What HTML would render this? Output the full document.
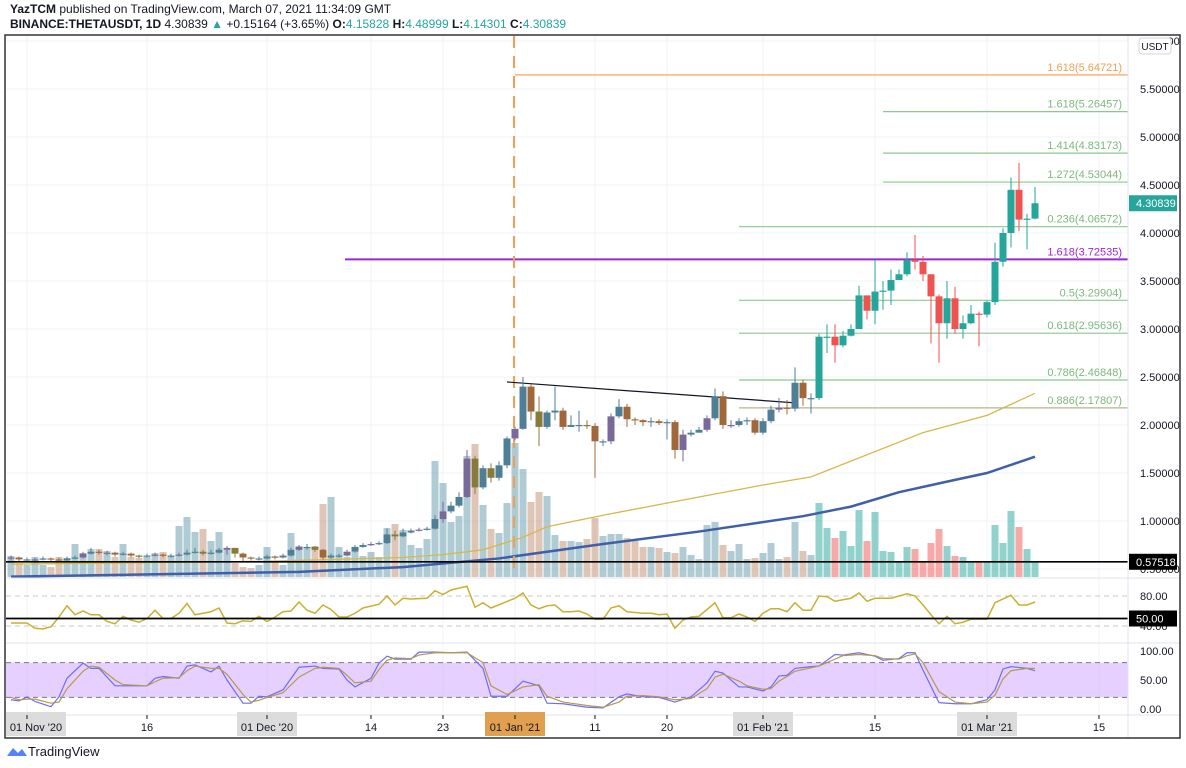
<!DOCTYPE html>
<html><head><meta charset="utf-8"><style>
html,body{margin:0;padding:0;background:#fff;width:1186px;height:768px;overflow:hidden;font-family:"Liberation Sans",sans-serif}
.hdr{position:absolute;left:10px;font-size:12px;color:#131722;white-space:nowrap}
</style></head><body>
<div class="hdr" style="top:2px"><b>YazTCM</b> published on TradingView.com, March 07, 2021 11:34:09 GMT</div>
<div class="hdr" style="top:17px"><b>BINANCE:THETAUSDT, 1D</b> 4.30839 <span style="color:#26a69a">▲</span> +0.15164 (+3.65%) <b>O:</b><span style="color:#26a69a">4.15828</span> <b>H:</b><span style="color:#26a69a">4.48999</span> <b>L:</b><span style="color:#26a69a">4.14301</span> <b>C:</b><span style="color:#26a69a">4.30839</span></div>
<svg id="chart" width="1186" height="768" style="position:absolute;left:0;top:0" xmlns="http://www.w3.org/2000/svg" font-family="Liberation Sans, sans-serif"></svg>
<div style="position:absolute;left:6px;top:744px;font-size:13px;color:#131722">
<svg width="22" height="14" style="vertical-align:-2px"><path d="M1 12 L7 4 L12 9 L16 5 L21 12 Z" fill="#2962ff" opacity="0.8"/></svg>TradingView</div>
<script>
const closes=[0.62,0.60,0.60,0.60,0.61,0.60,0.59,0.61,0.62,0.66,0.68,0.67,0.67,0.65,0.66,0.64,0.63,0.64,0.65,0.64,0.64,0.65,0.67,0.68,0.66,0.67,0.70,0.72,0.66,0.62,0.61,0.61,
0.63,0.62,0.64,0.70,0.73,0.73,0.70,0.62,0.64,0.64,0.68,0.73,0.75,0.76,0.77,
0.86,0.84,0.88,0.90,0.91,0.92,1.02,1.10,1.16,1.25,1.65,1.35,1.55,1.45,1.58,1.86,
1.96,2.40,2.14,1.98,2.13,2.15,1.98,2.0,2.0,1.99,1.83,1.83,2.09,2.19,2.06,2.05,2.03,2.04,2.02,2.03,1.74,1.90,1.92,1.95,2.07,2.30,2.00,2.00,2.04,2.05,1.92,2.04,2.16,2.18,2.17,
2.44,2.28,2.28,2.92,2.92,2.83,2.93,3.00,3.35,3.19,3.39,3.40,3.51,3.57,3.72,3.70,3.57,3.34,3.06,3.32,3.00,3.06,3.16,3.15,3.28,3.70,4.00,4.45,4.14,4.15,4.31];
const highs=[0.64,0.63,0.62,0.62,0.63,0.62,0.62,0.63,0.64,0.68,0.72,0.70,0.69,0.68,0.68,0.67,0.65,0.66,0.67,0.66,0.66,0.67,0.70,0.72,0.70,0.70,0.72,0.74,0.72,0.67,0.63,0.63,
0.65,0.64,0.66,0.72,0.75,0.76,0.74,0.71,0.66,0.66,0.70,0.75,0.77,0.78,0.79,
0.92,0.90,0.92,0.92,0.93,0.94,1.06,1.20,1.20,1.30,1.74,1.68,1.58,1.60,1.62,1.88,
1.98,2.50,2.42,2.30,2.15,2.40,2.18,2.10,2.15,2.05,2.02,1.85,2.12,2.27,2.22,2.08,2.06,2.08,2.06,2.06,2.05,1.95,1.95,1.98,2.10,2.38,2.35,2.05,2.07,2.08,2.07,2.07,2.20,2.28,2.26,
2.60,2.47,2.33,2.95,3.05,3.05,2.98,3.05,3.45,3.35,3.72,3.50,3.62,3.62,3.80,3.98,3.76,3.57,3.36,3.50,3.44,3.14,3.25,3.18,3.30,3.90,4.05,4.58,4.73,4.20,4.48];
const lows=[0.59,0.58,0.58,0.58,0.59,0.58,0.57,0.58,0.60,0.61,0.65,0.65,0.64,0.63,0.64,0.62,0.61,0.62,0.63,0.62,0.62,0.63,0.64,0.66,0.64,0.65,0.66,0.65,0.62,0.58,0.59,0.59,
0.60,0.60,0.61,0.63,0.69,0.70,0.68,0.60,0.61,0.62,0.63,0.67,0.72,0.74,0.75,
0.76,0.80,0.83,0.87,0.89,0.90,0.91,0.98,1.08,1.14,1.24,1.28,1.33,1.40,1.42,1.55,
1.84,1.95,2.05,1.78,1.96,2.05,1.95,1.98,1.93,1.96,1.45,1.78,1.80,2.07,1.98,2.00,1.99,1.98,2.00,1.85,1.65,1.62,1.88,1.92,1.93,2.05,1.96,1.97,1.98,2.00,1.90,1.90,2.02,2.13,2.11,
2.14,2.20,2.12,2.26,2.75,2.65,2.81,2.92,3.0,3.10,3.05,3.20,3.25,3.52,3.55,3.62,3.50,2.85,2.65,2.90,2.95,2.90,3.05,2.82,3.12,3.25,3.65,3.85,4.02,3.83,4.14];
const volumes=[21,14,12,20,12,10,20,19,33,24,28,28,26,20,33,20,19,20,24,25,21,51,60,45,48,36,45,27,14,10,9,12,
30,15,12,44,31,30,31,73,80,30,20,25,21,25,20,
49,53,47,32,29,38,116,94,55,61,121,133,72,48,44,74,
134,108,75,85,81,42,36,36,35,38,59,41,43,43,39,36,30,30,29,25,24,30,22,18,52,55,32,26,33,18,19,24,34,18,20,
55,26,22,74,49,39,46,31,67,36,65,26,25,15,30,28,15,34,48,31,21,20,16,16,15,52,34,66,50,28,15];
const firstDay=-2; // days relative to 01 Nov 2020
const ma50Days=[-2,30,47,52,57,62,65,72,84,92,98,112,120,126];
const ma50Vals=[0.55,0.58,0.62,0.65,0.70,0.83,0.94,1.06,1.25,1.375,1.46,1.92,2.10,2.33];
const ma200Days=[-2,34,47,59,72,84,97,103,109,115,120,126];
const ma200Vals=[0.42,0.47,0.52,0.61,0.76,0.89,1.05,1.15,1.30,1.41,1.50,1.67];
const rsiDays=[-2,0,1,2,3,4,5,6,7,8,9,10,11,12,13,14,15,16,17,18,19,20,21,23,24,25,26,27,28,29,30,31,32,33,34,35,36,37,38,39,40,41,42,44,45,46,47,48,50,51,52,53,55,56,57,58,61,62,
63,64,65,66,67,68,69,70,71,72,73,74,75,77,78,79,80,81,82,83,84,86,87,88,89,90,91,92,93,94,95,96,97,98,99,100,101,103,104,105,106,108,109,110,111,112,113,114,115,116,117,118,120,121,123,124,125,126];
const rsiVals=[44,44,37,36,39,52,67,55,60,55,55,46,43,53,48,45,50,61,50,50,57,70,55,59,64,44,43,47,46,53,46,52,59,60,72,61,57,68,62,52,52,57,64,69,80,68,77,76,77,87,82,88,93,65,71,64,77,84,
68,63,67,68,59,59,60,56,49,49,64,67,59,57,57,55,56,37,48,52,53,71,51,51,56,52,46,57,63,63,59,71,61,61,80,79,73,77,84,73,77,77,80,83,80,68,55,43,53,43,45,49,49,71,81,68,68,72];
const stochDays=[-2,-1,0,1,3,4,5,7,8,9,11,12,15,16,17,19,20,21,23,24,25,27,28,29,30,32,34,36,37,39,40,41,43,44,45,46,48,49,51,53,55,57,58,60,62,64,65,67,70,72,74,75,77,79,81,83,85,86,87,89,90,92,93,94,95,96,98,99,101,102,104,106,107,109,110,111,112,114,116,118,120,121,122,123,125,126];
const stochK=[16,14,21,13,4,21,53,79,70,70,40,40,40,53,56,53,74,76,64,74,50,10,10,22,21,33,72,74,70,69,50,38,53,79,91,86,86,98,98,97,98,70,22,22,48,40,10,9,3,2,21,26,21,20,12,21,45,65,62,38,38,31,38,57,58,70,73,74,94,93,97,91,84,87,97,97,67,11,9,9,16,33,69,73,70,66];
const stochD=[20,16,17,17,10,12,35,65,74,72,50,42,40,47,53,54,66,74,70,70,60,25,12,15,20,28,55,70,72,70,58,45,48,68,84,88,87,93,97,97,97,80,40,25,38,42,22,12,6,3,12,22,23,21,16,18,35,55,60,48,40,34,35,48,56,65,71,74,86,92,94,92,87,86,92,95,80,30,12,9,12,24,52,66,70,70];
const priceTicks=[0.5,1,1.5,2,2.5,3,3.5,4,4.5,5,5.5,6];
const timeTickDays=[0,15,30,43,52,61,71,80,92,106,120,134];
const timeTickLabels=["01 Nov '20","16","01 Dec '20","14","23","01 Jan '21","11","20","01 Feb '21","15","01 Mar '21","15"];
const fibLevels=[{t:"1.618(5.64721)",v:5.64721,d:61,c:"#ffa060"},{t:"1.618(5.26457)",v:5.26457,d:107,c:"#8bc98b"},{t:"1.414(4.83173)",v:4.83173,d:107,c:"#8bc98b"},{t:"1.272(4.53044)",v:4.53044,d:107,c:"#8bc98b"},{t:"0.236(4.06572)",v:4.06572,d:89,c:"#8bc98b"},{t:"0.5(3.29904)",v:3.29904,d:89,c:"#8bc98b"},{t:"0.618(2.95636)",v:2.95636,d:89,c:"#8bc98b"},{t:"0.786(2.46848)",v:2.46848,d:89,c:"#8bc98b"},{t:"0.886(2.17807)",v:2.17807,d:89,c:"#b5b58a"}];

const NS="http://www.w3.org/2000/svg";const svg=document.getElementById('chart');
function el(tag,attrs,parent){const e=document.createElementNS(NS,tag);for(const k in attrs)e.setAttribute(k,attrs[k]);(parent||svg).appendChild(e);return e;}
const X0=27,DX=8,PL=6,PR=1128;
const xD=d=>X0+DX*d;
const yP=p=>617-96*p;
const yV=v=>577-v;
const yR=v=>618.5-(v-50)*0.75;
const yS=v=>709-v*0.58;
for(const d of timeTickDays){const l=el('line',{x1:xD(d),x2:xD(d),y1:35,y2:715,stroke:'#f0f3fa'});}
for(const p of priceTicks){if(yP(p)<36)continue;const l=el('line',{x1:PL,x2:PR,y1:yP(p),y2:yP(p),stroke:'#f0f3fa'});}
closes.forEach((c,i)=>{const o=i?closes[i-1]:c;const d=firstDay+i;const up=c>=o;const v=volumes[i];
 const col=d>=99?(up?'rgba(38,166,154,0.5)':'rgba(239,83,80,0.5)'):(up?'rgba(110,160,175,0.55)':'rgba(195,150,120,0.55)');
 const r=el('rect',{x:xD(d)-3.5,y:yV(v),width:7,height:v,fill:col});});
function poly(days,vals,yf,stroke,w,name){const pts=days.map((d,i)=>xD(d)+','+yf(vals[i])).join(' ');const p=el('polyline',{points:pts,fill:'none',stroke:stroke,'stroke-width':w});return p;}
poly(ma50Days,ma50Vals,yP,'#d4b94a',1.3,'ma50-line');
poly(ma200Days,ma200Vals,yP,'#3f5fa8',2.5,'ma200-line');
fibLevels.forEach(f=>{const y=yP(f.v);const l=el('line',{x1:xD(f.d),x2:PR,y1:y,y2:y,stroke:f.c,'stroke-width':1.2});
 const t=el('text',{x:1122,y:y-4,'font-size':11,fill:f.c==='#ffa060'?'#f0a050':'#7cb87c','text-anchor':'end'});t.textContent=f.t;});
{const y=yP(3.72535);const l=el('line',{x1:345,x2:PR,y1:y,y2:y,stroke:'#9c27d0','stroke-width':2});
 const t=el('text',{x:1122,y:y-4,'font-size':11,fill:'#9c27d0','text-anchor':'end'});t.textContent='1.618(3.72535)';}
{const l=el('line',{x1:514,x2:514,y1:36,y2:575,stroke:'#f0a050','stroke-width':2,'stroke-dasharray':'12,8'});}
{const l=el('line',{x1:507,y1:382,x2:797,y2:403,stroke:'#131722','stroke-width':1.2});}
closes.forEach((c,i)=>{const o=i?closes[i-1]:c;const d=firstDay+i;const up=c>=o;
 const col=d>=99?(up?'#26a69a':'#ef5350'):(up?(i%3?'#4f7f96':'#7a6a9a'):(i%2?'#a0683a':'#8a7a3a'));
 const g=el('g',{});
 el('line',{x1:xD(d),x2:xD(d),y1:yP(highs[i]),y2:yP(lows[i]),stroke:col,'stroke-width':1},g);
 const top=yP(Math.max(o,c)),bot=yP(Math.min(o,c));el('rect',{x:xD(d)-3.5,y:top,width:7,height:Math.max(1.2,bot-top),fill:col},g);});
{const y=yP(0.57518);const l=el('line',{x1:PL,x2:PR,y1:y,y2:y,stroke:'#000','stroke-width':1.6});}
[80,40].forEach(v=>{const l=el('line',{x1:PL,x2:PR,y1:yR(v),y2:yR(v),stroke:'#c8c8c8','stroke-dasharray':'5,4'});});
poly(rsiDays,rsiVals,yR,'#c9b030',1.5,'rsi-line');
{const l=el('line',{x1:PL,x2:PR,y1:yR(50),y2:yR(50),stroke:'#000','stroke-width':1.8});}
{const r=el('rect',{x:PL,y:yS(80),width:PR-PL,height:yS(20)-yS(80),fill:'rgba(200,150,255,0.45)'});}
[80,20].forEach(v=>{const l=el('line',{x1:PL,x2:PR,y1:yS(v),y2:yS(v),stroke:'#787b86','stroke-dasharray':'5,4'});});
poly(stochDays,stochK,yS,'#6e6ef5',1.2,'stoch-k-line');
poly(stochDays,stochD,yS,'#b59a4a',1.2,'stoch-d-line');
[578,643,715].forEach(y=>{const l=el('line',{x1:PL,x2:1180,y1:y,y2:y,stroke:'#e0e3eb'});});
{const l=el('line',{x1:PR,x2:PR,y1:35,y2:738,stroke:'#e0e3eb'});}
priceTicks.forEach(p=>{const y=yP(p);if(y<38)return;const t=el('text',{x:1140,y:y+4,'font-size':11,fill:'#131722'});t.textContent=p.toFixed(5);});
{const r=el('rect',{x:1139,y:38,width:32,height:16,rx:3,fill:'#fff',stroke:'#d1d4dc'});
 const t=el('text',{x:1155,y:50,'font-size':10,fill:'#131722','text-anchor':'middle'});t.textContent='USDT';}
function badge(y,txt,bg,name){const r=el('rect',{x:1129,y:y-8,width:48,height:16,fill:bg});
 const t=el('text',{x:1136,y:y+4,'font-size':11,fill:'#fff'});t.textContent=txt;}
badge(yP(closes[closes.length-1]),'4.30839',"#26a69a",'last-price');
badge(yP(0.57518),'0.57518','#000','support');
[80,40].forEach(v=>{const t=el('text',{x:1140,y:yR(v)+4,'font-size':11,fill:'#131722'});t.textContent=v.toFixed(2);});
badge(yR(50),'50.00','#000','rsi-mid');
[100,50,0].forEach(v=>{const t=el('text',{x:1140,y:yS(v)+4,'font-size':11,fill:'#131722'});t.textContent=v.toFixed(2);});
timeTickDays.forEach((d,i)=>{const lab=timeTickLabels[i];const x=xD(d);const isMonth=lab.length>3;
 let bx=Math.max(6,x-30);
 if(isMonth){const r=el('rect',{x:bx,y:712,width:60,height:24,fill:lab.indexOf('Jan')>=0?'#e0a050':'#dcdcdc'});}
 el('line',{x1:x,x2:x,y1:715,y2:719,stroke:'#131722'});
 const t=el('text',{x:isMonth?bx+30:x,y:731,'font-size':11,fill:'#131722','text-anchor':'middle'});t.textContent=lab;});
{const r=el('rect',{x:5,y:35,width:1175,height:703,fill:'none',stroke:'#333','stroke-width':1.5});}
</script>
</body></html>
